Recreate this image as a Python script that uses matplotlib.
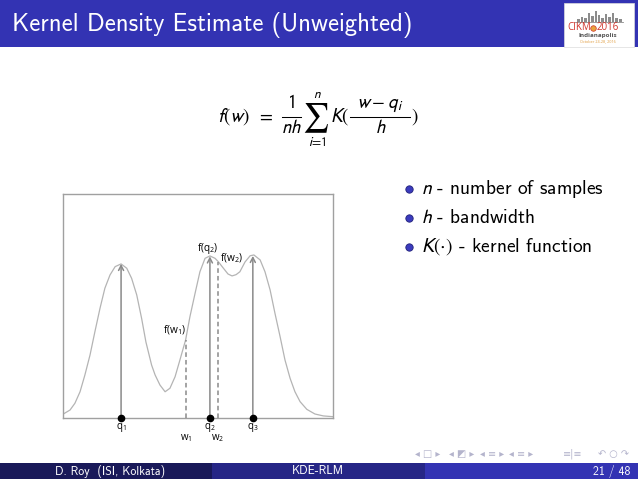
import matplotlib
matplotlib.use("Agg")
import matplotlib.pyplot as plt
from matplotlib.patches import Rectangle

# ---------------- data ----------------
# density curve f(w): sample of the drawn curve, x in [0, 10], y in [0, 1.4]
curve_x = [0.00, 0.25, 0.43, 0.62, 0.80, 0.99, 1.17, 1.36, 1.54, 1.73,
           1.92, 2.14, 2.35, 2.53, 2.72, 2.90, 3.06, 3.27, 3.40, 3.58,
           3.77, 3.95, 4.14, 4.32, 4.53, 4.69, 4.88, 5.06, 5.25, 5.43,
           5.62, 5.74, 5.93, 6.10, 6.25, 6.40, 6.54, 6.73, 6.92, 7.06,
           7.29, 7.47, 7.66, 7.84, 8.03, 8.21, 8.40, 8.58, 8.77, 9.02,
           9.32, 9.63, 10.00]
curve_y = [0.025, 0.050, 0.092, 0.164, 0.269, 0.394, 0.539, 0.686, 0.811, 0.894,
           0.946, 0.963, 0.936, 0.873, 0.769, 0.623, 0.475, 0.331, 0.269, 0.206,
           0.164, 0.186, 0.258, 0.363, 0.488, 0.633, 0.779, 0.914, 0.998, 1.013,
           0.998, 0.977, 0.936, 0.900, 0.888, 0.896, 0.914, 0.975, 1.014, 1.019,
           0.988, 0.914, 0.800, 0.654, 0.508, 0.363, 0.248, 0.164, 0.102, 0.054,
           0.025, 0.013, 0.008]

# sample points q_i and their density values f(q_i)
q_pos = [2.14, 5.43, 7.02]
q_f = [0.963, 1.010, 1.013]
q_labels = [r'q$_\mathregular{1}$', r'q$_\mathregular{2}$', r'q$_\mathregular{3}$']

# query points w_j and their density values f(w_j)
w_pos = [4.53, 5.72]
w_f = [0.488, 0.978]
w_labels = [r'w$_\mathregular{1}$', r'w$_\mathregular{2}$']

title = 'Kernel Density Estimate (Unweighted)'
bullets = [r'$n$ - number of samples', r'$h$ - bandwidth', r'$K(\cdot)$ - kernel function']
footer = ['D. Roy  (ISI, Kolkata)', 'KDE-RLM', '21 / 48']

# ---------------- style ----------------
W, H = 638, 479
HEAD = '#3333b3'
FOOT = ['#191959', '#262686', '#3333b3']
CURVE = '#b4b4b4'
LINE = '#8a8a8a'
SLIDE_FONT = 'cmss10'
LABEL_FONT = 'Open Sans'
plt.rcParams['mathtext.fontset'] = 'stixsans'
plt.rcParams['axes.unicode_minus'] = False

fig = plt.figure(figsize=(W / 100, H / 100), dpi=100)
fig.patch.set_facecolor('white')

bg = fig.add_axes([0, 0, 1, 1])
bg.set_xlim(0, W)
bg.set_ylim(H, 0)
bg.axis('off')

# header bar
bg.add_patch(Rectangle((0, 0), W, 47.3, color=HEAD, lw=0))
bg.text(12, 24.5, title, color='white', fontsize=17.8, family=SLIDE_FONT,
        va='center', ha='left')

# logo (decorative)
bg.add_patch(Rectangle((564, 3), 70, 44, facecolor='white', edgecolor='#dcdcdc', lw=0.5))
for bx, bw, bh in [(577, 3, 3), (581, 2, 5), (584, 3, 4), (588, 2, 9), (591, 3, 6),
                   (595, 2, 11), (598, 2, 7), (601, 3, 4), (605, 2, 8), (608, 3, 5),
                   (612, 2, 9), (615, 3, 4), (619, 3, 3)]:
    bg.add_patch(Rectangle((bx, 22 - bh), bw, bh, color='#8c8c8c', lw=0))
bg.plot([575, 623], [22, 22], color='#8c8c8c', lw=0.6)
bg.text(579, 27.5, 'CIKM', color='#d0342c', fontsize=7, family='Open Sans',
        ha='center', va='center')
bg.plot(593, 27.5, 'o', ms=4, mfc='#e8a33c', mec='#d0342c', mew=0.5)
bg.text(608, 27.5, '2016', color='#d0342c', fontsize=7, family='Open Sans',
        ha='center', va='center')
bg.text(598, 35, 'Indianapolis', color='#555555', fontsize=4.5, family='Open Sans',
        weight='bold', ha='center', va='center')
bg.text(598, 41, 'October 24-28, 2016', color='#e09a3a', fontsize=2.7,
        family='Open Sans', ha='center', va='center')

# formula  f(w) = 1/(nh) * sum_{i=1}^{n} K((w - q_i)/h)
FS = 13.5
base = 121.5
bg.text(234, base, r'$f(w)$', fontsize=FS, ha='center', va='baseline')
bg.text(265.5, base, r'$=$', fontsize=FS, ha='center', va='baseline')
bg.text(290.5, 108, r'$1$', fontsize=FS, ha='center', va='baseline')
bg.plot([281.5, 300.5], [116.7, 116.7], color='black', lw=0.75)
bg.text(291, 133, r'$nh$', fontsize=FS, ha='center', va='baseline')
bg.text(316, 117.5, '\u2211', fontsize=21, family='STIXGeneral', ha='center',
        va='center')
bg.text(317, 94.5, r'$n$', fontsize=9.5, ha='center', va='center')
bg.text(317, 142, r'$i\!=\!1$', fontsize=9.5, ha='center', va='center')
bg.text(329.5, base, r'$K($', fontsize=FS, ha='left', va='baseline')
bg.text(379.5, 107.5, r'$w-q_i$', fontsize=FS, ha='center', va='baseline')
bg.plot([350, 409.5], [116.7, 116.7], color='black', lw=0.75)
bg.text(380.5, 133, r'$h$', fontsize=FS, ha='center', va='baseline')
bg.text(411, base, r'$)$', fontsize=FS, ha='left', va='baseline')

# bullets
for i, txt in enumerate(bullets):
    y = 189 + i * 29
    bg.plot(409, y, 'o', ms=5.3, mfc='#3b3bbd', mec='#20207a', mew=0.6)
    bg.text(421, y, txt, fontsize=14, family=SLIDE_FONT, va='center',
            ha='left', color='black')

# navigation symbols (decorative)
for gx, g in [(428, '◂ □ ▸'), (462, '◂ ◩ ▸'), (492, '◂ ≡ ▸'), (521, '◂ ≡ ▸'),
              (573, '≡|≡'), (614, '↶ ○ ↷')]:
    bg.text(gx, 454, g, fontsize=7, color='#b4b4cc', ha='center', va='center',
            family='DejaVu Sans')

# footer
bounds = [0, 212, 425, 638]
for i in range(3):
    bg.add_patch(Rectangle((bounds[i], 462.7), bounds[i + 1] - bounds[i], H - 462.7,
                           color=FOOT[i], lw=0))
bg.text(110, 471, footer[0], color='white', fontsize=8.5, family=SLIDE_FONT,
        ha='center', va='center')
bg.text(318, 471, footer[1], color='white', fontsize=8.5, family=SLIDE_FONT,
        ha='center', va='center')
bg.text(630, 471, footer[2], color='white', fontsize=8.5, family=SLIDE_FONT,
        ha='right', va='center')

# ---------------- chart ----------------
x0, x1, y0, y1 = 63.3, 333.3, 194, 418
ax = fig.add_axes([x0 / W, 1 - y1 / H, (x1 - x0) / W, (y1 - y0) / H])
ax.set_xlim(0, 10)
ax.set_ylim(0, 1.4)
ax.set_xticks([])
ax.set_yticks([])
ax.patch.set_alpha(0)
for s in ax.spines.values():
    s.set_color('#a0a0a0')
    s.set_linewidth(1.0)

ax.plot(curve_x, curve_y, color=CURVE, lw=0.9, zorder=2)

for xq, fq in zip(q_pos, q_f):
    ax.annotate('', xy=(xq, fq), xytext=(xq, 0),
                arrowprops=dict(arrowstyle='->,head_length=0.35,head_width=0.18',
                                color=LINE, lw=1.1, shrinkA=0, shrinkB=0),
                zorder=3)
ax.vlines(w_pos, 0, w_f, colors=LINE, linestyles=(0, (3, 2)), lw=1.1, zorder=3)
ax.plot(q_pos, [0] * len(q_pos), 'o', color='black', ms=4.5, clip_on=False, zorder=5)

for xq, lab in zip(q_pos, q_labels):
    ax.text(xq, -0.058, lab, fontsize=7, family=LABEL_FONT, ha='center',
            va='center', clip_on=False)
for xw, lab in zip(w_pos, w_labels):
    ax.text(xw, -0.125, lab, fontsize=7, family=LABEL_FONT, ha='center',
            va='center', clip_on=False)

ax.text(5.36, 1.0625, r'f(q$_\mathregular{2}$)', fontsize=7.3, family=LABEL_FONT,
        ha='center', va='center', clip_on=False)
ax.text(6.24, 1.0, r'f(w$_\mathregular{2}$)', fontsize=7.3, family=LABEL_FONT,
        ha='center', va='center', clip_on=False)
ax.text(4.14, 0.55, r'f(w$_\mathregular{1}$)', fontsize=7.3, family=LABEL_FONT,
        ha='center', va='center', clip_on=False)

fig.savefig('out.png', dpi=100)
